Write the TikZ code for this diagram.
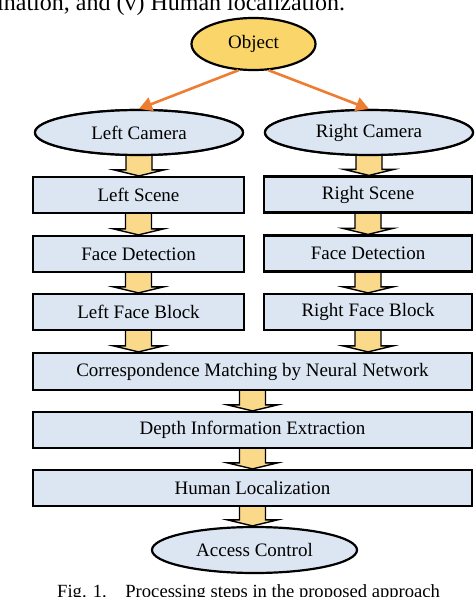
\documentclass[tikz,border=0pt]{standalone}
\usepackage{fontspec}
\setmainfont{Liberation Serif}
\usetikzlibrary{shapes.geometric,arrows.meta,calc}
\definecolor{boxblue}{HTML}{DCE6F2}
\definecolor{objyellow}{HTML}{F9D56A}
\definecolor{arryellow}{HTML}{FAD98A}
\definecolor{orangearr}{HTML}{EE7D31}
\newcommand\fatarrow[2]{%
  \draw[line width=1.4pt, fill=arryellow] let \p1=(#1.south), \p2=(#2.north) in
    (\x1-13pt,\y1+4pt) -- (\x1-13pt,\y2+6pt) -- (\x1-25pt,\y2+6pt) -- (\x1,\y2) --
    (\x1+25pt,\y2+6pt) -- (\x1+13pt,\y2+6pt) -- (\x1+13pt,\y1+4pt);
}
\begin{document}
\begin{tikzpicture}[x=1pt,y=-1pt,
  box/.style={draw=black, line width=2.2pt, fill=boxblue, minimum height=36pt, inner sep=0pt, font=\fontsize{19}{22}\selectfont},
  ell/.style={ellipse, draw=black, line width=2.2pt, fill=boxblue, inner sep=0pt, font=\fontsize{19}{22}\selectfont},
  orarrow/.style={draw=orangearr, line width=2.6pt, -{Triangle[length=13pt,width=14pt]}}]
\useasboundingbox (0,0) rectangle (474,597);
\clip (0,0) rectangle (474,597);
\node[anchor=base west, font=\fontsize{24}{28}\selectfont, inner sep=0pt] (toptext) at (-3,10) {ination, and (v) Human localization.};
\node[anchor=base west, font=\fontsize{18.6}{20}\selectfont, inner sep=0pt] (caption) at (57,597) {Fig. 1.\quad Processing steps in the proposed approach};
\node[ell, fill=objyellow, minimum width=124pt, minimum height=52pt] (obj) at (253.5,44) {Object};
\node[ell, minimum width=208pt, minimum height=45pt] (lc) at (139,132.5) {Left Camera};
\node[ell, minimum width=208pt, minimum height=45pt] (rc) at (369,132.5) {Right Camera};
\node[box, minimum width=211pt] (ls) at (138.5,195) {Left Scene};
\node[box, minimum width=208pt] (rs) at (368,194.5) {Right Scene};
\node[box, minimum width=211pt] (lfd) at (138.5,254) {Face Detection};
\node[box, minimum width=208pt] (rfd) at (368,253.5) {Face Detection};
\node[box, minimum width=211pt] (lfb) at (138.5,312) {Left Face Block};
\node[box, minimum width=208pt] (rfb) at (368,312) {Right Face Block};
\node[box, minimum width=439pt, minimum height=37pt] (cm) at (252.5,371.5) {Correspondence Matching by Neural Network};
\node[box, minimum width=439pt] (de) at (252.5,430) {Depth Information Extraction};
\node[box, minimum width=439pt] (hl) at (252.5,488) {Human Localization};
\node[ell, minimum width=205pt, minimum height=46pt] (ac) at (254.5,550) {Access Control};
% fat arrows
\fatarrow{lc}{ls}
\fatarrow{rc}{rs}
\fatarrow{ls}{lfd}
\fatarrow{rs}{rfd}
\fatarrow{lfd}{lfb}
\fatarrow{rfd}{rfb}
\fatarrow{de}{hl}
\fatarrow{cm}{de}
\fatarrow{hl}{ac}
\draw[line width=1.4pt, fill=arryellow] let \p1=(lfb.south), \p2=(cm.north) in
    (\x1-13pt,\y1+4pt) -- (\x1-13pt,\y2+6pt) -- (\x1-25pt,\y2+6pt) -- (\x1,\y2) --
    (\x1+25pt,\y2+6pt) -- (\x1+13pt,\y2+6pt) -- (\x1+13pt,\y1+4pt);
\draw[line width=1.4pt, fill=arryellow] let \p1=(rfb.south), \p2=(cm.north) in
    (\x1-13pt,\y1+4pt) -- (\x1-13pt,\y2+6pt) -- (\x1-25pt,\y2+6pt) -- (\x1,\y2) --
    (\x1+25pt,\y2+6pt) -- (\x1+13pt,\y2+6pt) -- (\x1+13pt,\y1+4pt);
% redraw upper nodes on top of the shaft tops
\node[ell, minimum width=208pt, minimum height=45pt] at (lc) {Left Camera};
\node[ell, minimum width=208pt, minimum height=45pt] at (rc) {Right Camera};
\node[box, minimum width=211pt] at (ls) {Left Scene};
\node[box, minimum width=208pt] at (rs) {Right Scene};
\node[box, minimum width=211pt] at (lfd) {Face Detection};
\node[box, minimum width=208pt] at (rfd) {Face Detection};
\node[box, minimum width=211pt] at (lfb) {Left Face Block};
\node[box, minimum width=208pt] at (rfb) {Right Face Block};
\node[box, minimum width=439pt, minimum height=37pt] at (cm) {Correspondence Matching by Neural Network};
\node[box, minimum width=439pt] at (de) {Depth Information Extraction};
\node[box, minimum width=439pt] at (hl) {Human Localization};
\draw[orarrow] (obj.240) -- (lc.north);
\draw[orarrow] (obj.300) -- (rc.north);
\end{tikzpicture}
\end{document}
